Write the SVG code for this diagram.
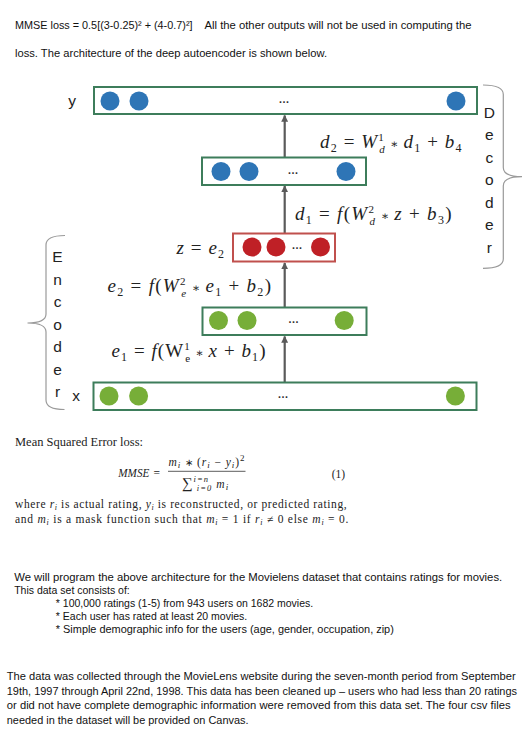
<svg xmlns="http://www.w3.org/2000/svg" width="530" height="737" viewBox="0 0 530 737">
<defs>
<marker id="ah" viewBox="0 0 10 10" refX="9" refY="5" markerWidth="3.2" markerHeight="3.2" orient="auto" markerUnits="strokeWidth">
<path d="M0,0 L10,5 L0,10 z" fill="#5a5a5a"/>
</marker>
<style>
.body{font-family:"Liberation Sans",Arial,sans-serif;font-size:10.5px;fill:#111}
.ser{font-family:"Liberation Serif","Times New Roman",serif;font-size:11.5px;fill:#222}
.m{font-family:"Liberation Serif","DejaVu Serif",serif;font-size:19px;fill:#222}
.s{font-size:12px}
.st{font-size:11px}
.op{font-size:12px}
.i{font-style:italic}
.lay{fill:#fff;stroke:#3d7d5b;stroke-width:2}
.layr{fill:#fff;stroke:#c0504d;stroke-width:2}
.b{fill:#2e75b6}
.g{fill:#77ae38}
.r{fill:#bf2026}
.dots{font-family:"Liberation Sans",Arial,sans-serif;font-size:11px;font-weight:bold;fill:#333;text-anchor:middle}
.big{font-family:"Liberation Sans",Arial,sans-serif;font-size:15.5px;fill:#222;text-anchor:middle}
.brace{fill:none;stroke:#9a9a9a;stroke-width:1.2}
.arr{stroke:#5a5a5a;stroke-width:2.2;fill:none}
</style>
</defs>
<rect width="530" height="737" fill="#fff"/>

<g id="intro">
<text class="body" x="15" y="28.5" textLength="177.5" lengthAdjust="spacingAndGlyphs">MMSE loss = 0.5[(3-0.25)² + (4-0.7)²]</text>
<text class="body" x="204.5" y="28.5" textLength="267" lengthAdjust="spacingAndGlyphs">All the other outputs will not be used in computing the</text>
<text class="body" x="15" y="57" textLength="312" lengthAdjust="spacingAndGlyphs">loss. The architecture of the deep autoencoder is shown below.</text>
</g>

<g id="connectors">
<line class="arr" x1="284.7" y1="382" x2="284.7" y2="336.5" marker-end="url(#ah)"/>
<line class="arr" x1="284.7" y1="307" x2="284.7" y2="263" marker-end="url(#ah)"/>
<line class="arr" x1="284.7" y1="233" x2="284.7" y2="186" marker-end="url(#ah)"/>
<line class="arr" x1="284.7" y1="157" x2="284.7" y2="115.5" marker-end="url(#ah)"/>
</g>

<g id="node-y">
<rect class="lay" x="94" y="87" width="383" height="27"/>
<circle class="b" cx="110" cy="101" r="9.5"/>
<circle class="b" cx="139" cy="101" r="9.5"/>
<circle class="b" cx="456" cy="101" r="9.5"/>
<text class="dots" x="284" y="103">…</text>
<text class="big" x="72" y="105.5">y</text>
</g>

<g id="node-d1">
<rect class="lay" x="202" y="157.5" width="164" height="27.5"/>
<circle class="b" cx="221" cy="171.5" r="9.5"/>
<circle class="b" cx="249" cy="171.5" r="9.5"/>
<circle class="b" cx="346" cy="171.5" r="9.5"/>
<text class="dots" x="293" y="173.5">…</text>
</g>

<g id="node-z">
<rect class="layr" x="233" y="233.5" width="102" height="28"/>
<circle class="r" cx="252" cy="247" r="9.5"/>
<circle class="r" cx="276" cy="247" r="9.5"/>
<circle class="r" cx="320.5" cy="247" r="9.5"/>
<text class="dots" x="297" y="249">…</text>
</g>

<g id="node-e1">
<rect class="lay" x="202.5" y="307.5" width="164" height="27.5"/>
<circle class="g" cx="218.5" cy="320.5" r="9.5"/>
<circle class="g" cx="247" cy="320.5" r="9.5"/>
<circle class="g" cx="344.2" cy="320.5" r="9.5"/>
<text class="dots" x="293.5" y="323">…</text>
</g>

<g id="node-x">
<rect class="lay" x="93.5" y="382.5" width="383" height="27.5"/>
<circle class="g" cx="109" cy="396" r="9.5"/>
<circle class="g" cx="138.6" cy="396" r="9.5"/>
<circle class="g" cx="455.4" cy="396" r="9.5"/>
<text class="dots" x="283" y="398">…</text>
<text class="big" x="76" y="401">x</text>
</g>

<g id="labels">
<text class="m" x="320" y="148" textLength="141.5" lengthAdjust="spacing"><tspan class="i">d</tspan><tspan class="s" dy="4">2</tspan><tspan dy="-4"> = </tspan><tspan class="i">W</tspan><tspan class="st" dy="-7.5">1</tspan><tspan class="st i" dx="-5.6" dy="12.5">d</tspan><tspan class="op" dy="-5.5"> ∗ </tspan><tspan class="i" dy="0.5">d</tspan><tspan class="s" dy="4">1</tspan><tspan dy="-4"> + </tspan><tspan class="i">b</tspan><tspan class="s" dy="4">4</tspan></text>
<text class="m" x="295" y="220" textLength="156.5" lengthAdjust="spacing"><tspan class="i">d</tspan><tspan class="s" dy="4">1</tspan><tspan dy="-4"> = </tspan><tspan class="i">f</tspan><tspan>(</tspan><tspan class="i">W</tspan><tspan class="st" dy="-7.5">2</tspan><tspan class="st i" dx="-5.6" dy="12.5">d</tspan><tspan class="op" dy="-5.5"> ∗ </tspan><tspan class="i" dy="0.5">z</tspan><tspan> + </tspan><tspan class="i">b</tspan><tspan class="s" dy="4">3</tspan><tspan dy="-4">)</tspan></text>
<text class="m" x="176.5" y="254" textLength="47.5" lengthAdjust="spacing"><tspan class="i">z</tspan><tspan> = </tspan><tspan class="i">e</tspan><tspan class="s" dy="4">2</tspan></text>
<text class="m" x="107.5" y="292" textLength="163.5" lengthAdjust="spacing"><tspan class="i">e</tspan><tspan class="s" dy="4">2</tspan><tspan dy="-4"> = </tspan><tspan class="i">f</tspan><tspan>(</tspan><tspan class="i">W</tspan><tspan class="st" dy="-7.5">2</tspan><tspan class="st i" dx="-5.6" dy="12.5">e</tspan><tspan class="op" dy="-5.5"> ∗ </tspan><tspan class="i" dy="0.5">e</tspan><tspan class="s" dy="4">1</tspan><tspan dy="-4"> + </tspan><tspan class="i">b</tspan><tspan class="s" dy="4">2</tspan><tspan dy="-4">)</tspan></text>
<text class="m" x="111.5" y="357" textLength="154" lengthAdjust="spacing"><tspan class="i">e</tspan><tspan class="s" dy="4">1</tspan><tspan dy="-4"> = </tspan><tspan class="i">f</tspan><tspan>(W</tspan><tspan class="st" dy="-7.5">1</tspan><tspan class="st" dx="-5.6" dy="12.5">e</tspan><tspan class="op" dy="-5.5"> ∗ </tspan><tspan class="i" dy="0.5">x</tspan><tspan> + </tspan><tspan class="i">b</tspan><tspan class="s" dy="4">1</tspan><tspan dy="-4">)</tspan></text>
</g>

<g id="encoder-brace">
<path class="brace" d="M65,235.5 Q46,235.5 46,245 L46,314 Q46,323 27.5,323 Q46,323 46,332 L46,400 Q46,409.5 64.5,409.5"/>
<text class="big" x="57.5" y="262">E</text>
<text class="big" x="57.5" y="284.5">n</text>
<text class="big" x="57.5" y="307">c</text>
<text class="big" x="57.5" y="329.5">o</text>
<text class="big" x="57.5" y="352">d</text>
<text class="big" x="57.5" y="374.5">e</text>
<text class="big" x="57.5" y="397">r</text>
</g>

<g id="decoder-brace">
<path class="brace" d="M483,85 Q503.3,85 503.3,94.5 L503.3,167.5 Q503.3,176.7 522,176.7 Q503.3,176.7 503.3,186 L503.3,259 Q503.3,268.3 483,268.3"/>
<text class="big" x="489.3" y="117.5">D</text>
<text class="big" x="489.3" y="140">e</text>
<text class="big" x="489.3" y="162.5">c</text>
<text class="big" x="489.3" y="185">o</text>
<text class="big" x="489.3" y="207.5">d</text>
<text class="big" x="489.3" y="230">e</text>
<text class="big" x="489.3" y="252.5">r</text>
</g>

<g id="formula">
<text class="ser" x="15" y="445.5" textLength="128" lengthAdjust="spacingAndGlyphs">Mean Squared Error loss:</text>
<text class="ser i" x="118.3" y="476.5" font-size="12.5" textLength="31" lengthAdjust="spacingAndGlyphs">MMSE</text>
<text class="ser" x="153.5" y="476.5" font-size="12.5">=</text>
<text class="ser" x="168.5" y="466" font-size="13.5" textLength="76" lengthAdjust="spacing"><tspan class="i">m</tspan><tspan class="i" font-size="9" dy="2">i</tspan><tspan dy="-2" font-size="10"> ∗ </tspan><tspan>(</tspan><tspan class="i">r</tspan><tspan class="i" font-size="9" dy="2">i</tspan><tspan dy="-2"> − </tspan><tspan class="i">y</tspan><tspan class="i" font-size="9" dy="2">i</tspan><tspan dy="-2">)</tspan><tspan font-size="9" dy="-5.5">2</tspan></text>
<line x1="168" y1="471.3" x2="245.5" y2="471.3" stroke="#333" stroke-width="0.8"/>
<text class="ser" x="181.7" y="487.5" font-size="13.5" textLength="46.6" lengthAdjust="spacing"><tspan font-size="15">∑</tspan><tspan class="i" font-size="8.5" dy="-6">i=n</tspan><tspan class="i" font-size="8.5" dx="-12.5" dy="9.5">i=0</tspan><tspan dy="-3.5"> </tspan><tspan class="i">m</tspan><tspan class="i" font-size="9" dy="2">i</tspan></text>
<text class="ser" x="331.7" y="477.5" font-size="12.5">(1)</text>
<text class="ser" x="15" y="508" textLength="331.7" lengthAdjust="spacing">where <tspan class="i">r</tspan><tspan class="i" font-size="8" dy="2">i</tspan><tspan dy="-2"> is actual rating, </tspan><tspan class="i">y</tspan><tspan class="i" font-size="8" dy="2">i</tspan><tspan dy="-2"> is reconstructed, or predicted rating,</tspan></text>
<text class="ser" x="15" y="522.5" textLength="333.3" lengthAdjust="spacing">and <tspan class="i">m</tspan><tspan class="i" font-size="8" dy="2">i</tspan><tspan dy="-2"> is a mask function such that </tspan><tspan class="i">m</tspan><tspan class="i" font-size="8" dy="2">i</tspan><tspan dy="-2"> = 1 if </tspan><tspan class="i">r</tspan><tspan class="i" font-size="8" dy="2">i</tspan><tspan dy="-2"> ≠ 0 else </tspan><tspan class="i">m</tspan><tspan class="i" font-size="8" dy="2">i</tspan><tspan dy="-2"> = 0.</tspan></text>
</g>

<g id="dataset">
<text class="body" x="14.2" y="581" textLength="488" lengthAdjust="spacingAndGlyphs">We will program the above architecture for the Movielens dataset that contains ratings for movies.</text>
<text class="body" x="14.2" y="593.5">This data set consists of:</text>
<text class="body" x="55.8" y="606.5">* 100,000 ratings (1-5) from 943 users on 1682 movies.</text>
<text class="body" x="55.8" y="619.5">* Each user has rated at least 20 movies.</text>
<text class="body" x="55.8" y="632.5" textLength="338" lengthAdjust="spacingAndGlyphs">* Simple demographic info for the users (age, gender, occupation, zip)</text>
</g>

<g id="description">
<text class="body" x="6.8" y="680" textLength="508.8" lengthAdjust="spacingAndGlyphs">The data was collected through the MovieLens website during the seven-month period from September</text>
<text class="body" x="6.8" y="694.5" textLength="510.2" lengthAdjust="spacingAndGlyphs">19th, 1997 through April 22nd, 1998. This data has been cleaned up – users who had less than 20 ratings</text>
<text class="body" x="6.8" y="709" textLength="503.7" lengthAdjust="spacingAndGlyphs">or did not have complete demographic information were removed from this data set. The four csv files</text>
<text class="body" x="6.8" y="723.5" textLength="241.7" lengthAdjust="spacingAndGlyphs">needed in the dataset will be provided on Canvas.</text>
</g>
</svg>
